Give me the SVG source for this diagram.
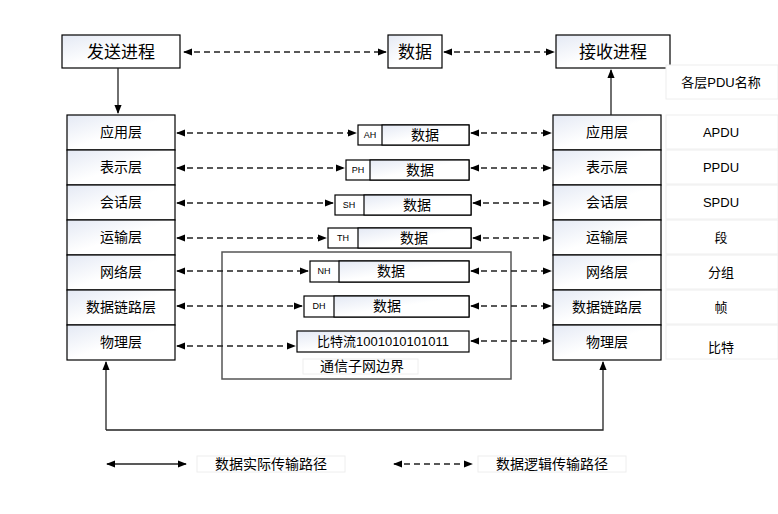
<svg xmlns="http://www.w3.org/2000/svg" width="778" height="514" viewBox="0 0 778 514">
<defs>
<linearGradient id="g" x1="0" y1="0" x2="1" y2="1"><stop offset="0" stop-color="#e4e9f4"/><stop offset="0.5" stop-color="#ffffff"/></linearGradient>
<marker id="a" viewBox="0 0 10 10" refX="9" refY="5" markerWidth="7" markerHeight="7" orient="auto-start-reverse"><path d="M0,1 L10,5 L0,9 z" fill="#000"/></marker>
</defs>
<style>
text{font-family:"Liberation Sans","Noto Sans CJK SC",sans-serif;fill:#000;text-anchor:middle;dominant-baseline:central}
.b{fill:url(#g);stroke:#000;stroke-width:1.2}
.w{fill:#fff;stroke:#000;stroke-width:1.2}
.f{fill:#fff;stroke:#eee;stroke-width:1}
.d{stroke:#222;stroke-width:1.3;stroke-dasharray:6,4;fill:none;marker-start:url(#a);marker-end:url(#a)}
.s{stroke:#222;stroke-width:1.3;fill:none}
.t{font-size:14px}.m{font-size:13px}.h{font-size:9px}.l{font-size:17px}
</style>
<rect width="778" height="514" fill="#fff"/>
<g id="top">
<g id="send"><rect class="b" x="62" y="35" width="118" height="33"/><text class="l" x="121" y="52">发送进程</text></g>
<g id="data"><rect class="b" x="388" y="35" width="54" height="33"/><text class="l" x="415" y="52">数据</text></g>
<g id="recv"><rect class="b" x="556" y="35" width="114" height="33"/><text class="l" x="613" y="52">接收进程</text></g>
</g>
<g id="left">
<rect class="b" x="67" y="115" width="108" height="35"/><text class="t" x="121" y="132">应用层</text>
<rect class="b" x="67" y="150" width="108" height="35"/><text class="t" x="121" y="167">表示层</text>
<rect class="b" x="67" y="185" width="108" height="35"/><text class="t" x="121" y="202">会话层</text>
<rect class="b" x="67" y="220" width="108" height="35"/><text class="t" x="121" y="237">运输层</text>
<rect class="b" x="67" y="255" width="108" height="35"/><text class="t" x="121" y="272">网络层</text>
<rect class="b" x="67" y="290" width="108" height="35"/><text class="t" x="121" y="307">数据链路层</text>
<rect class="b" x="67" y="325" width="108" height="35"/><text class="t" x="121" y="342">物理层</text>
</g>
<g id="right">
<rect class="b" x="553" y="115" width="108" height="35"/><text class="t" x="607" y="132">应用层</text>
<rect class="b" x="553" y="150" width="108" height="35"/><text class="t" x="607" y="167">表示层</text>
<rect class="b" x="553" y="185" width="108" height="35"/><text class="t" x="607" y="202">会话层</text>
<rect class="b" x="553" y="220" width="108" height="35"/><text class="t" x="607" y="237">运输层</text>
<rect class="b" x="553" y="255" width="108" height="35"/><text class="t" x="607" y="272">网络层</text>
<rect class="b" x="553" y="290" width="108" height="35"/><text class="t" x="607" y="307">数据链路层</text>
<rect class="b" x="553" y="325" width="108" height="35"/><text class="t" x="607" y="342">物理层</text>
</g>
<g id="pdunames">
<rect class="f" x="666" y="65" width="112" height="34"/><text class="m" x="721" y="82">各层PDU名称</text>
<rect class="f" x="666" y="115" width="112" height="34"/><text class="m" x="721" y="132">APDU</text>
<rect class="f" x="666" y="150" width="112" height="34"/><text class="m" x="721" y="167">PPDU</text>
<rect class="f" x="666" y="185" width="112" height="34"/><text class="m" x="721" y="202">SPDU</text>
<rect class="f" x="666" y="220" width="112" height="34"/><text class="m" x="721" y="237">段</text>
<rect class="f" x="666" y="255" width="112" height="34"/><text class="m" x="721" y="272">分组</text>
<rect class="f" x="666" y="290" width="112" height="34"/><text class="m" x="721" y="307">帧</text>
<rect class="f" x="666" y="325" width="112" height="34"/><text class="m" x="721" y="347">比特</text>
</g>
<g id="subnet"><rect x="222" y="252" width="289" height="127" fill="none" stroke="#555" stroke-width="1.5"/><rect class="f" x="303" y="359" width="115" height="15"/><text class="t" x="362" y="366">通信子网边界</text></g>
<g id="pdus">
<rect class="w" x="358" y="125" width="111" height="20"/><rect class="b" x="382" y="125" width="87" height="20"/><text class="h" x="370" y="135">AH</text><text class="t" x="425" y="135">数据</text>
<rect class="w" x="346" y="160" width="123" height="20"/><rect class="b" x="370" y="160" width="99" height="20"/><text class="h" x="358" y="170">PH</text><text class="t" x="420" y="170">数据</text>
<rect class="w" x="335" y="195" width="136" height="20"/><rect class="b" x="364" y="195" width="107" height="20"/><text class="h" x="349" y="205">SH</text><text class="t" x="417" y="205">数据</text>
<rect class="w" x="328" y="228" width="143" height="20"/><rect class="b" x="358" y="228" width="113" height="20"/><text class="h" x="343" y="238">TH</text><text class="t" x="414" y="238">数据</text>
<rect class="w" x="310" y="261" width="159" height="21"/><rect class="b" x="339" y="261" width="130" height="21"/><text class="h" x="324" y="271">NH</text><text class="t" x="391" y="271">数据</text>
<rect class="w" x="304" y="296" width="165" height="21"/><rect class="b" x="334" y="296" width="135" height="21"/><text class="h" x="319" y="306">DH</text><text class="t" x="387" y="306">数据</text>
<rect class="b" x="297" y="331" width="172" height="21"/><text class="m" x="383" y="341">比特流1001010101011</text>
</g>
<g id="connectors">
<line class="d" x1="184" y1="52" x2="386" y2="52"/>
<line class="d" x1="444" y1="52" x2="554" y2="52"/>
<line class="s" x1="118" y1="68" x2="118" y2="113" marker-end="url(#a)"/>
<line class="s" x1="611" y1="115" x2="611" y2="70" marker-end="url(#a)"/>
<line class="d" x1="177" y1="133" x2="356" y2="133"/>
<line class="d" x1="177" y1="168" x2="344" y2="168"/>
<line class="d" x1="177" y1="203" x2="333" y2="203"/>
<line class="d" x1="177" y1="238" x2="326" y2="238"/>
<line class="d" x1="177" y1="271" x2="308" y2="271"/>
<line class="d" x1="177" y1="306" x2="302" y2="306"/>
<line class="d" x1="177" y1="346" x2="295" y2="346"/>
<line class="d" x1="471" y1="133" x2="551" y2="133"/>
<line class="d" x1="471" y1="168" x2="551" y2="168"/>
<line class="d" x1="473" y1="203" x2="551" y2="203"/>
<line class="d" x1="473" y1="238" x2="551" y2="238"/>
<line class="d" x1="471" y1="271" x2="551" y2="271"/>
<line class="d" x1="471" y1="306" x2="551" y2="306"/>
<line class="d" x1="471" y1="341" x2="551" y2="341"/>
<path class="s" d="M106,430 L603,430 L603,362" marker-end="url(#a)"/>
<line class="s" x1="106" y1="430" x2="106" y2="362" marker-end="url(#a)"/>
</g>
<g id="legend">
<line class="s" x1="107" y1="464" x2="186" y2="464" marker-start="url(#a)" marker-end="url(#a)"/>
<rect class="f" x="197" y="456" width="148" height="16"/><text class="t" x="271" y="464">数据实际传输路径</text>
<line class="d" x1="394" y1="464" x2="472" y2="464"/>
<rect class="f" x="478" y="456" width="148" height="16"/><text class="t" x="552" y="464">数据逻辑传输路径</text>
</g>
</svg>
